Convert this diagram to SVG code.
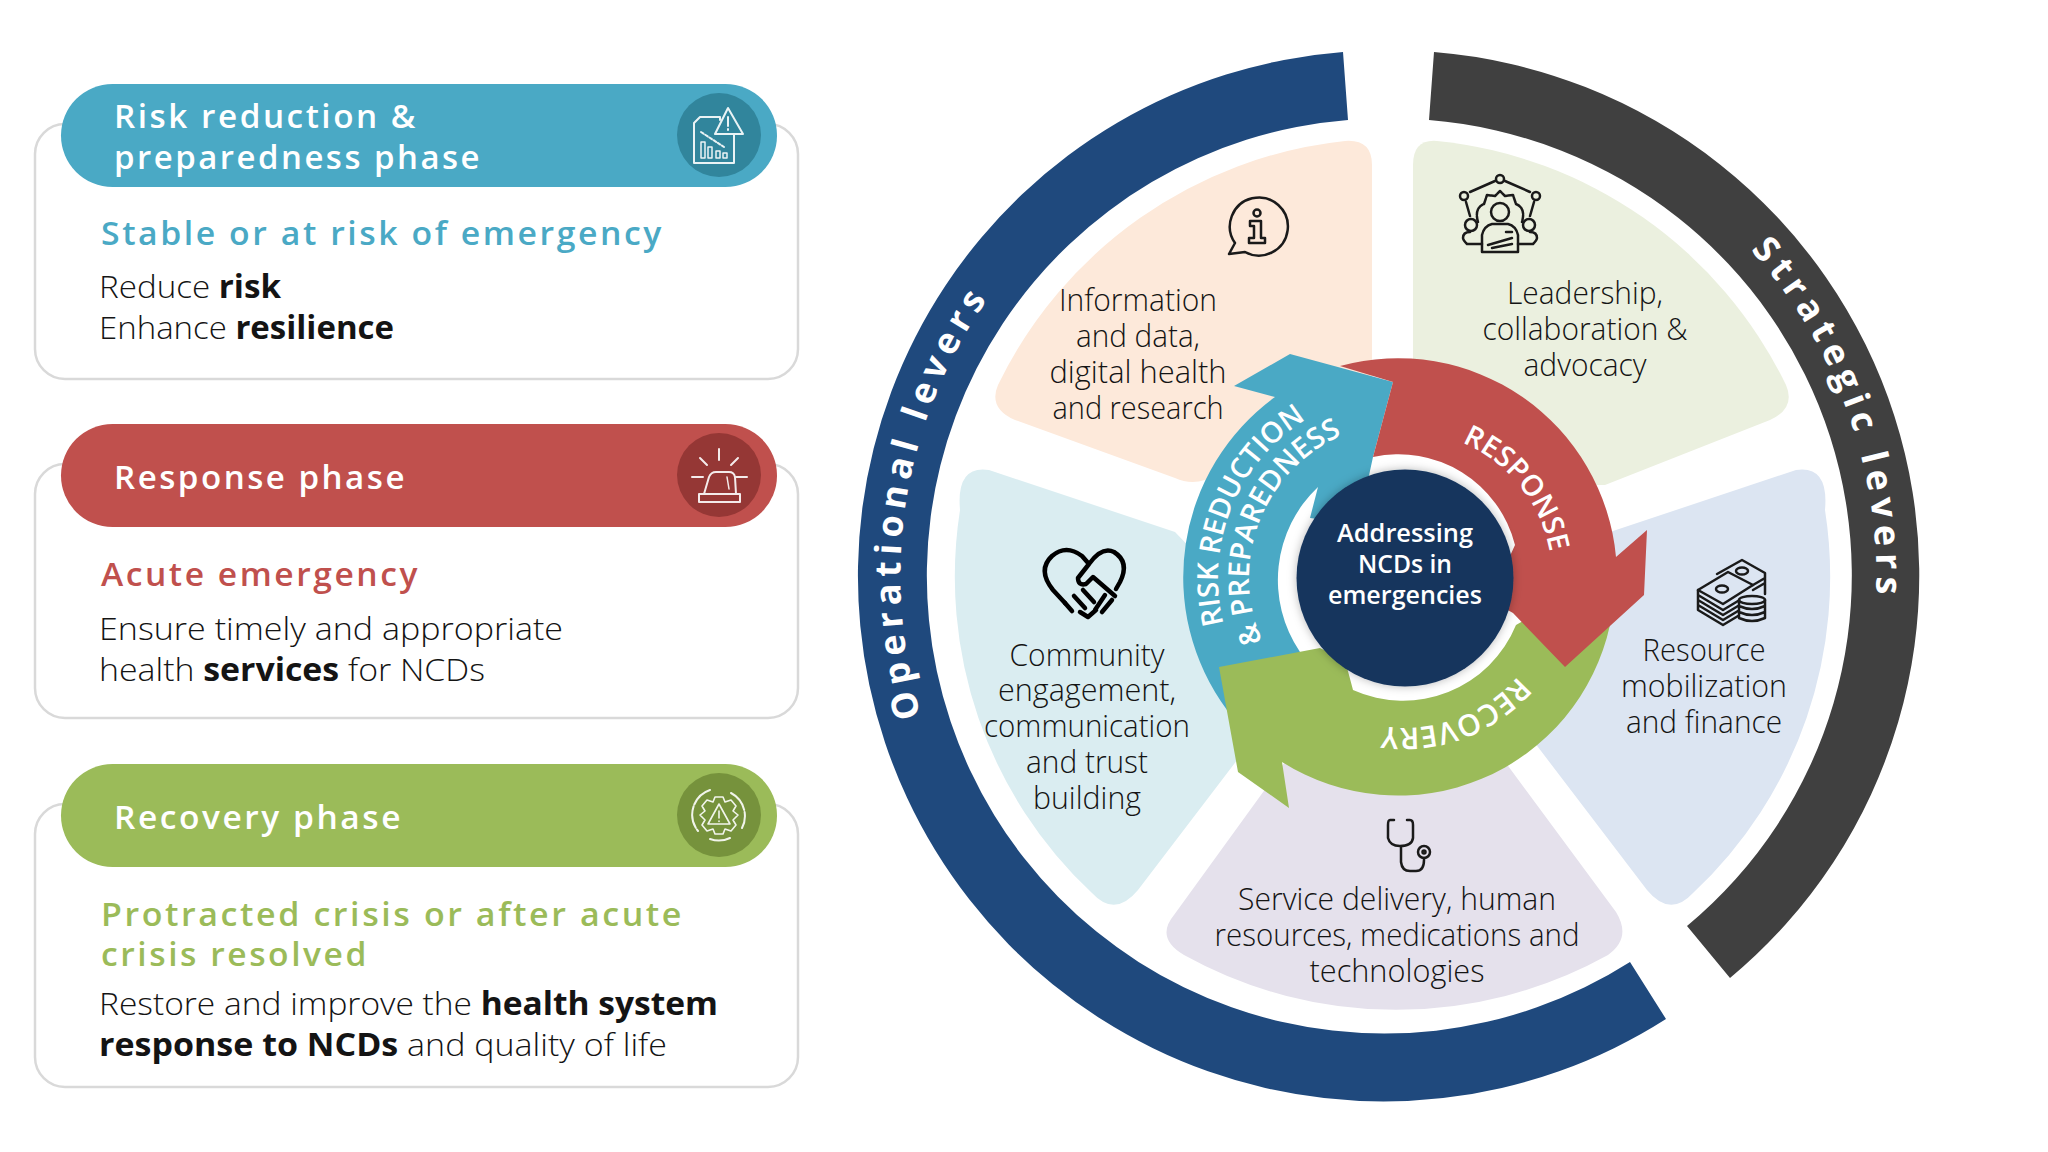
<svg xmlns="http://www.w3.org/2000/svg" xmlns:xlink="http://www.w3.org/1999/xlink" width="2048" height="1152" viewBox="0 0 2048 1152">
<style>
text{font-family:"Open Sans","Noto Sans","Liberation Sans",sans-serif}
.card{fill:#fff;stroke:#d9d9d9;stroke-width:2.5}
.head{font-size:33px;font-weight:600;fill:#fff;letter-spacing:2.5px}
.sub{font-size:33px;font-weight:600;letter-spacing:2.5px}
.body{font-size:32px;font-weight:300;fill:#141414}
.body tspan{font-weight:700}
.pt{font-size:31px;font-weight:300;fill:#141414;text-anchor:middle}
.ct{font-size:26px;font-weight:600;fill:#fff;text-anchor:middle}
.arc{font-size:29px;font-weight:600;fill:#fff}
.ring{font-size:36px;font-weight:700;fill:#fff}
.wi{fill:none;stroke:#fff;stroke-width:2;stroke-linecap:round;stroke-linejoin:round;opacity:.9}
.bi{fill:none;stroke:#1a1a1a;stroke-width:2.5;stroke-linecap:round;stroke-linejoin:round}
</style>
<defs>
<path id="pResp" d="M1462,442.5A147 147 0 0 1 1550,603.5"/>
<path id="pReco" d="M1518,676A150 150 0 0 1 1354,719"/>
<path id="pRisk" d="M1223.8,624.2A187 187 0 0 1 1341,402.3"/>
<path id="pPrep" d="M1262.5,641.4A156 156 0 0 1 1364.6,427.3"/>
<path id="pOp" d="M921,716A484 484 0 0 1 1042,234"/>
<path id="pSt" d="M1750.5,250A488 488 0 0 1 1869,661.7"/>
<filter id="sh" x="-20%" y="-20%" width="140%" height="140%"><feDropShadow dx="0" dy="0" stdDeviation="5" flood-color="#000" flood-opacity=".28"/></filter>
</defs>
<rect width="2048" height="1152" fill="#fff"/>

<g id="phase-risk">
<rect class="card" x="35" y="124" width="763" height="255" rx="30"/>
<rect x="61" y="84" width="716" height="103" rx="51.5" fill="#4aa9c5"/>
<circle cx="719" cy="135" r="42" fill="#31859c"/>
<g class="wi"><path d="M700,117H720V120M700,117L694,123V163H734V134"/><path d="M728,108L715,134H743Z"/><path d="M728,117V126M728,129V130"/><path d="M701,132L724,147" stroke-dasharray="3 2"/><path d="M701,142V158H705V142ZM708,147V158H712V147ZM716,151V158H720V151ZM723,153V158H727V153Z" stroke-width="1.5"/></g>
<text class="head" x="114" y="128" textLength="304" lengthAdjust="spacingAndGlyphs">Risk reduction &amp;</text>
<text class="head" x="114" y="169" textLength="368" lengthAdjust="spacingAndGlyphs">preparedness phase</text>
<text class="sub" x="101" y="245" fill="#4aa9c5" textLength="563" lengthAdjust="spacingAndGlyphs">Stable or at risk of emergency</text>
<text class="body" x="99" y="298" textLength="182" lengthAdjust="spacingAndGlyphs">Reduce <tspan>risk</tspan></text>
<text class="body" x="99" y="339" textLength="295" lengthAdjust="spacingAndGlyphs">Enhance <tspan>resilience</tspan></text>
</g>

<g id="phase-response">
<rect class="card" x="35" y="464" width="763" height="254" rx="30"/>
<rect x="61" y="424" width="716" height="103" rx="51.5" fill="#c0504d"/>
<circle cx="719" cy="475" r="42" fill="#953735"/>
<g class="wi"><path d="M699,494V502H740V494Z"/><path d="M704,494L709,477Q711,472 716,472H729Q734,472 735,477L736,494"/><path d="M727,477L729,489" stroke-width="1.5"/><path d="M719,449V460M700,458L707,465M738,458L731,465M692,477H703M736,477H747"/></g>
<text class="head" x="114" y="489" textLength="293" lengthAdjust="spacingAndGlyphs">Response phase</text>
<text class="sub" x="101" y="586" fill="#c0504d" textLength="319" lengthAdjust="spacingAndGlyphs">Acute emergency</text>
<text class="body" x="99" y="640" textLength="464" lengthAdjust="spacingAndGlyphs">Ensure timely and appropriate</text>
<text class="body" x="99" y="681" textLength="386" lengthAdjust="spacingAndGlyphs">health <tspan>services</tspan> for NCDs</text>
</g>

<g id="phase-recovery">
<rect class="card" x="35" y="804" width="763" height="283" rx="30"/>
<rect x="61" y="764" width="716" height="103" rx="51.5" fill="#9bbb59"/>
<circle cx="719" cy="815" r="42" fill="#76923c"/>
<g class="wi"><path d="M710,790A26 26 0 0 0 698,831M731,793A26 26 0 0 1 742,828M730,838A26 26 0 0 1 710,839" stroke-dasharray="22 2"/><path d="M715,797H723L725,802L731,800L736,806L733,811L738,815L733,820L736,825L731,831L725,829L723,834H715L713,829L707,831L702,825L705,820L700,815L705,811L702,806L707,800L713,802Z" stroke-width="1.6"/><path d="M719,804L708,824H730Z" stroke-width="1.6"/><path d="M719,811V818M719,821V821.5" stroke-width="1.6"/></g>
<text class="head" x="114" y="829" textLength="289" lengthAdjust="spacingAndGlyphs">Recovery phase</text>
<text class="sub" x="101" y="926" fill="#9bbb59" textLength="583" lengthAdjust="spacingAndGlyphs">Protracted crisis or after acute</text>
<text class="sub" x="101" y="966" fill="#9bbb59" textLength="268" lengthAdjust="spacingAndGlyphs">crisis resolved</text>
<text class="body" x="99" y="1015" textLength="619" lengthAdjust="spacingAndGlyphs">Restore and improve the <tspan>health system</tspan></text>
<text class="body" x="99" y="1056" textLength="568" lengthAdjust="spacingAndGlyphs"><tspan>response to NCDs</tspan> and quality of life</text>
</g>

<g id="operational-levers">
<path d="M1343,52A525.5 525.5 0 1 0 1666,1019L1630,962A457.5 457.5 0 1 1 1348,120Z" fill="#1f497d"/>
<text class="ring" letter-spacing="6"><textPath href="#pOp">Operational levers</textPath></text>
</g>
<g id="strategic-levers">
<path d="M1434,52A528 525 0 0 1 1730,978L1687,926A460 457 0 0 0 1429,120Z" fill="#404040"/>
<text class="ring" letter-spacing="6.5"><textPath href="#pSt">Strategic levers</textPath></text>
</g>

<g id="lever-information">
<path d="M1345,141Q1372,139 1372,165V400L1205,480Q1190,485 1175,478L1015,420Q988,408 998,385A437 437 0 0 1 1345,141Z" fill="#fde9da"/>
<g transform="translate(-1,-3)"><path class="bi" d="M1230,257L1236,246A29 29 0 1 1 1246,255Q1238,256 1230,257Z"/>
<path class="bi" d="M1251,224H1262V241H1266V246H1250V241H1255V229H1251Z"/><circle class="bi" cx="1258" cy="216" r="3.5"/></g>
<text class="pt" x="1138" y="311" textLength="158" lengthAdjust="spacingAndGlyphs">Information</text>
<text class="pt" x="1138" y="347" textLength="124" lengthAdjust="spacingAndGlyphs">and data,</text>
<text class="pt" x="1138" y="383" textLength="177" lengthAdjust="spacingAndGlyphs">digital health</text>
<text class="pt" x="1138" y="419" textLength="171" lengthAdjust="spacingAndGlyphs">and research</text>
</g>
<g id="lever-leadership">
<path d="M1437,141Q1413,139 1413,165V440L1510,485H1605L1770,420Q1796,408 1786,385A437 437 0 0 0 1437,141Z" fill="#ebf0df"/>
<g class="bi"><circle cx="1500" cy="179" r="4"/><circle cx="1464" cy="196" r="4"/><circle cx="1536" cy="196" r="4"/><path d="M1495,181L1470,192M1505,181L1530,192M1466,202L1470,216M1534,202L1530,216"/>
<path d="M1478,222Q1474,208 1484,204L1487,195L1495,196L1500,191L1505,196L1513,195L1516,204Q1526,208 1522,222" stroke-dasharray="6 1"/>
<circle cx="1500" cy="212" r="9"/><path d="M1482,252V235Q1484,226 1492,224H1508Q1516,226 1518,235V252ZM1488,245L1512,238M1492,248L1512,244M1506,232H1512"/>
<circle cx="1471" cy="225" r="6"/><circle cx="1529" cy="225" r="6"/><path d="M1482,244H1467Q1463,240 1463,238Q1463,232 1470,232M1518,244H1533Q1537,240 1537,238Q1537,232 1530,232"/></g>
<text class="pt" x="1585" y="304" textLength="156" lengthAdjust="spacingAndGlyphs">Leadership,</text>
<text class="pt" x="1585" y="340" textLength="205" lengthAdjust="spacingAndGlyphs">collaboration &amp;</text>
<text class="pt" x="1585" y="376" textLength="123" lengthAdjust="spacingAndGlyphs">advocacy</text>
</g>
<g id="lever-community">
<path d="M989,470L1175,532L1260,620V730L1138,890Q1115,918 1092,893A433 433 0 0 1 960,510Q956,465 989,470Z" fill="#daedf1"/>
<g fill="none" stroke="#000" stroke-width="4.5" stroke-linecap="round" stroke-linejoin="round"><path d="M1065,603L1053,590Q1037,570 1052,556Q1066,544 1082,556L1089,564L1078,578Q1078,586 1086,584L1093,577L1115,596M1089,564Q1102,546 1114,552Q1130,562 1120,582L1116,589"/><path d="M1065,603L1072,611M1074,596L1085,608M1083,590L1094,602M1096,610L1088,617L1080,612M1105,595L1095,610M1112,600L1102,612"/></g>
<text class="pt" x="1087" y="666" textLength="155" lengthAdjust="spacingAndGlyphs">Community</text>
<text class="pt" x="1087" y="701" textLength="178" lengthAdjust="spacingAndGlyphs">engagement,</text>
<text class="pt" x="1087" y="737" textLength="206" lengthAdjust="spacingAndGlyphs">communication</text>
<text class="pt" x="1087" y="773" textLength="122" lengthAdjust="spacingAndGlyphs">and trust</text>
<text class="pt" x="1087" y="809" textLength="108" lengthAdjust="spacingAndGlyphs">building</text>
</g>
<g id="lever-service">
<path d="M1174,915L1290,755H1500L1616,912Q1632,938 1608,955A437 437 0 0 1 1184,955Q1155,938 1174,915Z" fill="#e5e1ec"/>
<g class="bi"><path d="M1394,820H1390Q1388,820 1388,825V838Q1390,846 1400,846Q1412,846 1413,838V825Q1413,820 1410,820H1407M1401,846V862Q1402,871 1410,871H1416Q1424,871 1424,860V858"/><circle cx="1424" cy="852" r="6"/><circle cx="1424" cy="852" r="1.5"/></g>
<text class="pt" x="1397" y="910" textLength="318" lengthAdjust="spacingAndGlyphs">Service delivery, human</text>
<text class="pt" x="1397" y="946" textLength="365" lengthAdjust="spacingAndGlyphs">resources, medications and</text>
<text class="pt" x="1397" y="982" textLength="175" lengthAdjust="spacingAndGlyphs">technologies</text>
</g>
<g id="lever-resource">
<path d="M1796,470Q1829,465 1825,510A433 433 0 0 1 1693,893Q1670,918 1647,890L1525,730V620L1610,532Z" fill="#dce5f2"/>
<g class="bi" stroke-width="2" transform="translate(1,4)"><path d="M1697,586L1727,568L1752,581L1722,600Z"/><path d="M1697,586V606L1722,621L1737,612M1697,591L1722,606L1737,597M1697,596L1722,611L1737,602M1697,601L1722,616L1737,607"/><path d="M1716,570L1741,556L1764,569V590M1752,581L1764,574M1752,586L1764,579"/><ellipse cx="1721" cy="585" rx="6" ry="3.5"/><ellipse cx="1741" cy="567" rx="6" ry="3.5"/><ellipse cx="1751" cy="596" rx="13" ry="4"/><path d="M1738,596V614Q1751,620 1764,614V596M1738,602Q1751,608 1764,602M1738,608Q1751,614 1764,608"/></g>
<text class="pt" x="1704" y="661" textLength="123" lengthAdjust="spacingAndGlyphs">Resource</text>
<text class="pt" x="1704" y="697" textLength="166" lengthAdjust="spacingAndGlyphs">mobilization</text>
<text class="pt" x="1704" y="733" textLength="156" lengthAdjust="spacingAndGlyphs">and finance</text>
</g>

<g id="cycle">
<circle cx="1405" cy="578" r="132" fill="#fff"/>
<path d="M1234,386L1290,354L1393,382L1373,457L1368,480L1325,520L1310,518L1318,487A128 128 0 0 0 1300,652L1250,740L1227,710A223 223 0 0 1 1275,397Z" fill="#4aa9c5"/>
<path d="M1219,667L1320,648L1345,660L1353,690A122 122 0 0 0 1516,625L1560,600L1610,625A217 217 0 0 1 1282,762L1289,808L1238,772Z" fill="#9bbb59"/>
<path d="M1340,366A219 219 0 0 1 1616,557L1647,530L1644,595L1565,667L1513,613L1490,600L1515,545A120 120 0 0 0 1373,457L1393,382Z" fill="#c0504d"/>
<text class="arc"><textPath href="#pResp">RESPONSE</textPath></text>
<text class="arc" font-size="30" style="font-size:30px"><textPath href="#pReco">RECOVERY</textPath></text>
<text class="arc"><textPath href="#pRisk">RISK REDUCTION</textPath></text>
<text class="arc"><textPath href="#pPrep">&amp; PREPAREDNESS</textPath></text>
</g>
<g id="center">
<circle cx="1405" cy="578" r="108.5" fill="#17365d" filter="url(#sh)"/>
<text class="ct" x="1405" y="542" textLength="136" lengthAdjust="spacingAndGlyphs">Addressing</text>
<text class="ct" x="1405" y="573" textLength="94" lengthAdjust="spacingAndGlyphs">NCDs in</text>
<text class="ct" x="1405" y="604" textLength="154" lengthAdjust="spacingAndGlyphs">emergencies</text>
</g>
</svg>
